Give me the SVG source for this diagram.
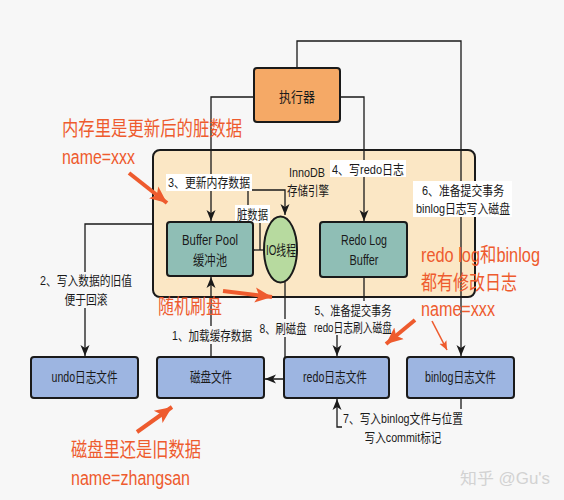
<svg xmlns="http://www.w3.org/2000/svg" width="564" height="500" viewBox="0 0 564 500">
<defs>
<marker id="ah" markerUnits="userSpaceOnUse" markerWidth="12" markerHeight="12" viewBox="0 0 12 12" refX="11" refY="6" orient="auto">
<path d="M0,1.5 L11,6 L0,10.5 L3,6 Z" fill="#1a1a1a"/>
</marker>
<marker id="oa" markerUnits="userSpaceOnUse" markerWidth="18" markerHeight="18" viewBox="0 0 18 18" refX="17" refY="9" orient="auto">
<path d="M0,1.5 L17,9 L0,16.5 L4,9 Z" fill="#EE5B2E"/>
</marker>
<marker id="oa2" markerUnits="userSpaceOnUse" markerWidth="10" markerHeight="10" viewBox="0 0 10 10" refX="9" refY="5" orient="auto">
<path d="M0,1 L9,5 L0,9 L2,5 Z" fill="#EE5B2E"/>
</marker>
</defs>
<style>
text{font-family:"Liberation Sans","Noto Sans CJK SC",sans-serif;fill:#1a1a1a;}
.box{stroke:#1a1a1a;stroke-width:2;}
.blue{fill:#9DB5E1;}
.teal{fill:#8FBEB5;}
.lbl{font-size:13px;text-anchor:middle;}
.bt{font-size:14px;text-anchor:middle;}
.con{fill:none;stroke:#1a1a1a;stroke-width:1.3;}
.ann{fill:#EE5B2E;font-size:20px;}
.oline{fill:none;stroke:#EE5B2E;stroke-width:4;}
.bgw{fill:#FFFFFF;}
.bgg{fill:#F7F7F7;}
</style>
<rect x="0" y="0" width="564" height="500" fill="#F7F7F7"/>

<g id="innodb">
<rect x="153" y="150" width="322" height="147" rx="7" fill="#FBE7C5" class="box"/>
<text x="307" y="177" class="lbl" textLength="36" lengthAdjust="spacingAndGlyphs">InnoDB</text>
<text x="308" y="195" class="lbl" textLength="42" lengthAdjust="spacingAndGlyphs">存储引擎</text>
</g>

<g id="connectors">
<path class="con" d="M254,97 H211 V221" marker-end="url(#ah)"/>
<path class="con" d="M340,97 H364 V221" marker-end="url(#ah)"/>
<path class="con" d="M297,68 V41 H461 V356" marker-end="url(#ah)"/>
<path class="con" d="M254,250 H264"/>
<path class="con" d="M260,250 V214 H248 V190 H285 V215" marker-end="url(#ah)"/>
<path class="con" d="M153,224 H85 V356" marker-end="url(#ah)"/>
<path class="con" d="M211,357 V277" marker-end="url(#ah)"/>
<path class="con" d="M285,282 V379 H265" marker-end="url(#ah)"/>
<path class="con" d="M364,277 V318 H337 V356" marker-end="url(#ah)"/>
<path class="con" d="M461,398 V427 H337 V399" marker-end="url(#ah)"/>
</g>

<g id="labels">
<rect x="166" y="174" width="86" height="17" class="bgw"/>
<text x="209" y="187" class="lbl" textLength="82" lengthAdjust="spacingAndGlyphs">3、更新内存数据</text>
<rect x="235" y="205" width="35" height="18" class="bgw"/>
<text x="252.5" y="219" class="lbl" textLength="31" lengthAdjust="spacingAndGlyphs">脏数据</text>
<rect x="330" y="160" width="76" height="17" class="bgw"/>
<text x="368" y="173.5" class="lbl" textLength="72" lengthAdjust="spacingAndGlyphs">4、写redo日志</text>
<rect x="413" y="181" width="99" height="36" class="bgw"/>
<text x="463" y="194.5" class="lbl" textLength="82" lengthAdjust="spacingAndGlyphs">6、准备提交事务</text>
<text x="463" y="212.5" class="lbl" textLength="94" lengthAdjust="spacingAndGlyphs">binlog日志写入磁盘</text>
<rect x="36" y="272" width="100" height="36" class="bgg"/>
<text x="86" y="285" class="lbl" textLength="92" lengthAdjust="spacingAndGlyphs">2、写入数据的旧值</text>
<text x="86" y="304" class="lbl" textLength="43" lengthAdjust="spacingAndGlyphs">便于回滚</text>
<rect x="170" y="326" width="84" height="18" class="bgg"/>
<text x="212" y="339.5" class="lbl" textLength="80" lengthAdjust="spacingAndGlyphs">1、加载缓存数据</text>
<rect x="258" y="319" width="51" height="18" class="bgg"/>
<text x="283" y="332.5" class="lbl" textLength="47" lengthAdjust="spacingAndGlyphs">8、刷磁盘</text>
<rect x="313" y="301" width="81" height="34" class="bgg"/>
<text x="353" y="314.5" class="lbl" textLength="77" lengthAdjust="spacingAndGlyphs">5、准备提交事务</text>
<text x="353" y="331.5" class="lbl" textLength="78" lengthAdjust="spacingAndGlyphs">redo日志刷入磁盘</text>
<rect x="342" y="409" width="124" height="38" class="bgg"/>
<text x="403" y="422.5" class="lbl" textLength="120" lengthAdjust="spacingAndGlyphs">7、写入binlog文件与位置</text>
<text x="403" y="442" class="lbl" textLength="77" lengthAdjust="spacingAndGlyphs">写入commit标记</text>
</g>

<g id="executor">
<rect x="254" y="68" width="86" height="54" rx="3" fill="#F5A966" class="box"/>
<text x="297" y="102" class="bt" textLength="36" lengthAdjust="spacingAndGlyphs">执行器</text>
</g>

<g id="bufferpool">
<rect x="167" y="222" width="86" height="54" rx="3" class="box teal"/>
<text x="210" y="245" class="bt" textLength="56" lengthAdjust="spacingAndGlyphs">Buffer Pool</text>
<text x="210" y="265" class="bt" textLength="34" lengthAdjust="spacingAndGlyphs">缓冲池</text>
</g>

<g id="iothread">
<ellipse cx="280.5" cy="249.5" rx="16.5" ry="33" fill="#B7DA9F" class="box"/>
<text x="281" y="254.5" class="bt" textLength="30" lengthAdjust="spacingAndGlyphs">IO线程</text>
</g>

<g id="redologbuffer">
<rect x="320" y="222" width="87" height="55" rx="3" class="box teal"/>
<text x="364" y="245" class="bt" textLength="46" lengthAdjust="spacingAndGlyphs">Redo Log</text>
<text x="364" y="265" class="bt" textLength="29" lengthAdjust="spacingAndGlyphs">Buffer</text>
</g>

<g id="undofile">
<rect x="31" y="357" width="107" height="41" rx="3" class="box blue"/>
<text x="84.5" y="382" class="bt" textLength="66" lengthAdjust="spacingAndGlyphs">undo日志文件</text>
</g>

<g id="diskfile">
<rect x="157" y="357" width="107" height="41" rx="3" class="box blue"/>
<text x="211" y="382" class="bt" textLength="42" lengthAdjust="spacingAndGlyphs">磁盘文件</text>
</g>

<g id="redofile">
<rect x="284" y="357" width="105" height="41" rx="3" class="box blue"/>
<text x="335" y="382" class="bt" textLength="64" lengthAdjust="spacingAndGlyphs">redo日志文件</text>
</g>

<g id="binlogfile">
<rect x="407" y="357" width="107" height="41" rx="3" class="box blue"/>
<text x="460.5" y="382" class="bt" textLength="71" lengthAdjust="spacingAndGlyphs">binlog日志文件</text>
</g>

<g id="annotations">
<text x="62" y="136" class="ann" textLength="180" lengthAdjust="spacingAndGlyphs">内存里是更新后的脏数据</text>
<text x="62" y="164" class="ann" textLength="73" lengthAdjust="spacingAndGlyphs">name=xxx</text>
<path class="oline" d="M129,173 L167,203" marker-end="url(#oa)"/>
<text x="158" y="314" class="ann" textLength="64" lengthAdjust="spacingAndGlyphs">随机刷盘</text>
<path class="oline" d="M223,291 L272,297" marker-end="url(#oa)"/>
<text x="421" y="262" class="ann" textLength="119" lengthAdjust="spacingAndGlyphs">redo log和binlog</text>
<text x="421" y="290" class="ann" textLength="96" lengthAdjust="spacingAndGlyphs">都有修改日志</text>
<text x="421" y="316" class="ann" textLength="74" lengthAdjust="spacingAndGlyphs">name=xxx</text>
<path class="oline" d="M415,320 L386,344" marker-end="url(#oa)"/>
<path d="M432,321 L447,350" fill="none" stroke="#EE5B2E" stroke-width="1.6" marker-end="url(#oa2)"/>
<text x="71" y="457" class="ann" textLength="130" lengthAdjust="spacingAndGlyphs">磁盘里还是旧数据</text>
<text x="71" y="485" class="ann" textLength="119" lengthAdjust="spacingAndGlyphs">name=zhangsan</text>
<path class="oline" d="M137,432 L172,407" marker-end="url(#oa)"/>
</g>

<text x="460" y="484" style="font-size:16px;fill:#D2D2D2" textLength="90" lengthAdjust="spacingAndGlyphs">知乎 @Gu's</text>
</svg>
